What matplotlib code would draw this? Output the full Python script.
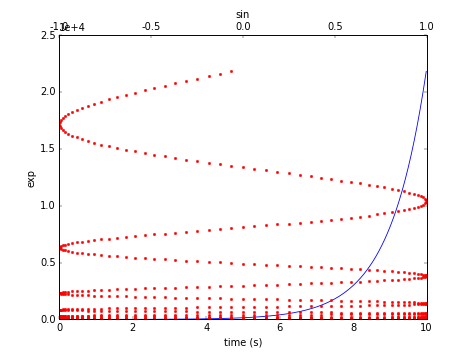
import numpy as np
import matplotlib
matplotlib.use("Agg")
import matplotlib.pyplot as plt
from matplotlib.ticker import FuncFormatter

plt.style.use("classic")
plt.rcParams["axes.unicode_minus"] = False

# sample times of the measured series (s)
t_start, t_stop, t_step = 0.01, 10.0, 0.01
time_s = np.arange(t_start, t_stop, t_step)
exp_vals = np.exp(time_s)
sin_vals = np.sin(2 * np.pi * time_s)

fig = plt.figure(figsize=(8, 6), dpi=59.25, facecolor="white")
ax1 = fig.add_subplot(111)
ax1.plot(time_s, exp_vals, "b-")
ax1.set_xlabel("time (s)")
ax1.set_ylabel("exp")
ax1.set_ylim(0, 25000)
ax1.yaxis.set_major_formatter(FuncFormatter(lambda v, p: "%.1f" % (v / 1e4)))
ax1.text(0, 1.01, "1e+4", transform=ax1.transAxes, ha="left", va="bottom")

# second x axis on top
ax2 = ax1.twiny()
ax2.plot(sin_vals, exp_vals, "r.")
ax2.set_xlabel("sin")
ax2.set_ylim(0, 25000)

fig.savefig("out.png", dpi=59.25, facecolor="white")
